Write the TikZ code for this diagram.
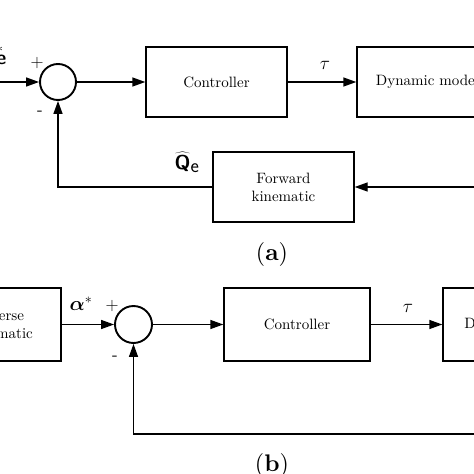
\RequirePackage{fix-cm}
\documentclass[tikz,border=0pt]{standalone}
\usepackage{bm}
\usepackage{fontspec}
\setmainfont{lmroman10-regular.otf}[BoldFont=lmroman10-bold.otf]
\usetikzlibrary{arrows.meta}
\begin{document}
\begin{tikzpicture}[x=1pt,y=-1pt,
  every node/.style={font=\fontsize{15}{18}\selectfont},
  blockbox/.style={draw,line width=1.4pt,rectangle,inner sep=0pt,align=center},
  sumcirc/.style={draw,line width=1.9pt,circle,inner sep=0pt},
  sig/.style={line width=1.4pt,-{Triangle[length=13pt,width=9pt]}},
  lbl/.style={inner sep=0pt,font=\fontsize{18}{20}\selectfont},
  taulbl/.style={inner sep=0pt,font=\fontsize{19}{20}\selectfont},
  biglbl/.style={inner sep=0pt,font=\fontsize{20}{22}\selectfont},
  caplbl/.style={inner sep=0pt,font=\fontsize{24}{26}\selectfont}]
\useasboundingbox (0,0) rectangle (474,474);
\clip (0,0) rectangle (474,474);
% ---------- panel (a) ----------
\node[sumcirc,minimum size=36pt] (sumA) at (58,82) {};
\node[blockbox,minimum width=141pt,minimum height=70pt] (ctrlA) at (216.5,82) {Controller};
\node[blockbox,minimum width=141pt,minimum height=70pt] (dynA) at (427.5,82) {Dynamic model};
\node[blockbox,minimum width=141pt,minimum height=70pt] (fkA) at (283.5,187) {Forward\\kinematic};
\coordinate (inA) at (-5,82);
\coordinate (fbA) at (480,187);
\draw[sig] (inA) -- (sumA);
\draw[sig] (sumA) -- (ctrlA);
\draw[sig] (ctrlA) -- (dynA);
\draw[sig] (fbA) -- (fkA);
\draw[sig] (fkA.west) -| (sumA.south);
\node[biglbl,anchor=east] (qref) at (7,55) {\textsf{\textbf{Q}}$^{*}_{\textsf{\textbf{e}}}$};
\node[lbl] (plusA) at (37,63) {$+$};
\node[lbl] (minusA) at (40,113) {\textsf{-}};
\node[taulbl] (tauA) at (325,65) {$\tau$};
\node[biglbl] (qhat) at (187,162) {$\widehat{\textsf{\textbf{Q}}}_{\textsf{e}}$};
\node[caplbl] (capA) at (272,254) {(\textbf{a})};
% ---------- panel (b) ----------
\node[blockbox,minimum width=120pt,minimum height=73pt] (ikB) at (1,324.5) {Inverse\\kinematic};
\node[sumcirc,minimum size=37pt] (sumB) at (133.5,324.5) {};
\node[blockbox,minimum width=146pt,minimum height=73pt] (ctrlB) at (297,324.5) {Controller};
\node[blockbox,minimum width=146pt,minimum height=73pt] (dynB) at (516,324.5) {Dynamic model};
\coordinate (fbB) at (480,434);
\draw[sig] (ikB) -- (sumB);
\draw[sig] (sumB) -- (ctrlB);
\draw[sig] (ctrlB) -- (dynB);
\draw[sig] (fbB) -| (sumB.south);
\node[biglbl] (alphaB) at (81,304) {$\bm{\alpha}^{*}$};
\node[lbl] (plusB) at (112,306) {$+$};
\node[lbl] (minusB) at (115,358) {\textsf{-}};
\node[taulbl] (tauB) at (408,308) {$\tau$};
\node[caplbl] (capB) at (272,465) {(\textbf{b})};
\end{tikzpicture}
\end{document}
